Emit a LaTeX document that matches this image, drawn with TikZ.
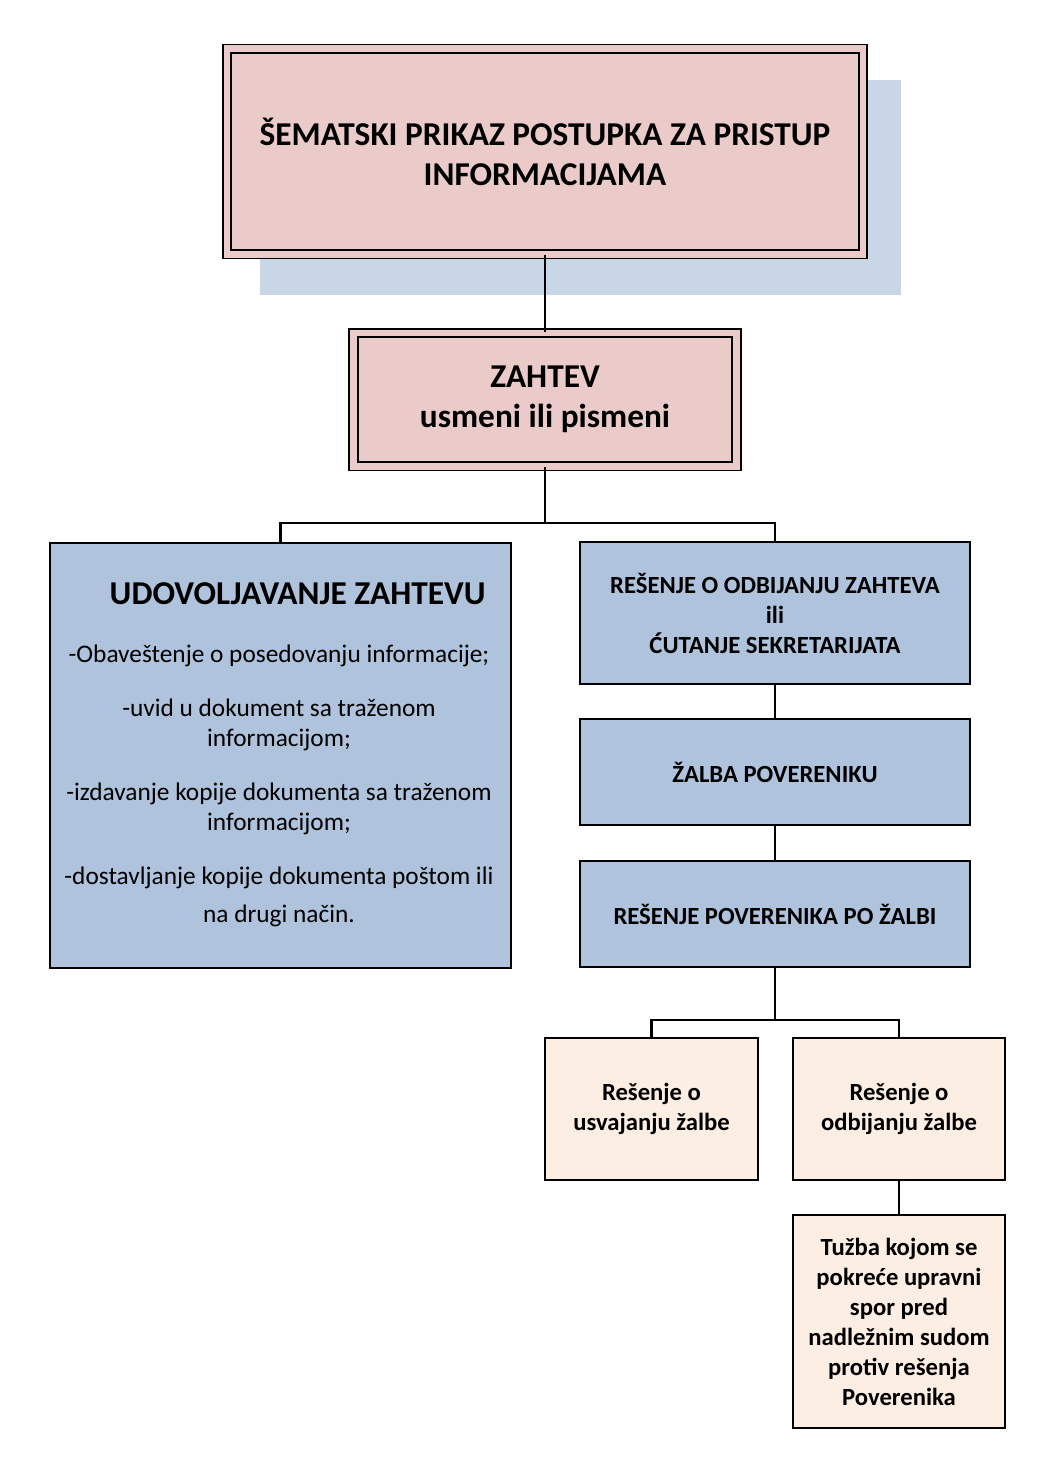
\documentclass[tikz,border=0pt]{standalone}
\usepackage{fontspec}
\setmainfont{Carlito}
\usetikzlibrary{positioning}
\definecolor{pinkfill}{HTML}{EACBCA}
\definecolor{bluefill}{HTML}{B0C3DD}
\definecolor{shadowblue}{HTML}{C9D6E6}
\definecolor{peachfill}{HTML}{FCEEE3}
\tikzset{
  box/.style={draw=black, line width=1.4pt, inner sep=0pt, align=center},
  pinkbox/.style={box, fill=pinkfill, double=pinkfill, double distance=5pt,
    font=\fontsize{25}{30}\selectfont\bfseries},
  bluebox/.style={box, fill=bluefill, font=\fontsize{18.5}{22.5}\selectfont\bfseries},
  peachbox/.style={box, fill=peachfill, font=\fontsize{18.5}{22.5}\selectfont\bfseries},
  link/.style={line width=1.6pt}
}
\begin{document}
\begin{tikzpicture}[x=0.75pt, y=-0.75pt]
\useasboundingbox (0,0) rectangle (1050,1466);
% shadow behind title
\fill[shadowblue] (260,80) rectangle (901,295);

\node[pinkbox, minimum width=477pt, minimum height=154pt] (title) at (545,151.5)
  {ŠEMATSKI PRIKAZ POSTUPKA ZA PRISTUP\\ INFORMACIJAMA};
\node[pinkbox, minimum width=287pt, minimum height=100pt] (zahtev) at (545,399.5)
  {ZAHTEV\\ usmeni ili pismeni};

\node[bluebox, minimum width=345.75pt, minimum height=318.75pt, anchor=north west] (udov) at (49,542) {};
\node[align=center, anchor=north, font=\fontsize{19}{22.5}\selectfont] (udovtext) at (279,578)
  {{\fontsize{25}{30}\selectfont\bfseries\hspace*{28pt}UDOVOLJAVANJE ZAHTEVU}\\[21pt]
   -Obaveštenje o posedovanju informacije;\\[18pt]
   -uvid u dokument sa traženom\\ informacijom;\\[18pt]
   -izdavanje kopije dokumenta sa traženom\\ informacijom;\\[18pt]
   -dostavljanje kopije dokumenta poštom ili\\[6pt] na drugi način.};

\node[bluebox, minimum width=292.5pt, minimum height=106.5pt] (odbij) at (775,613)
  {REŠENJE O ODBIJANJU ZAHTEVA\\ ili\\ ĆUTANJE SEKRETARIJATA};
\node[bluebox, minimum width=292.5pt, minimum height=79.5pt] (zalba) at (775,772)
  {ŽALBA POVERENIKU};
\node[bluebox, minimum width=292.5pt, minimum height=79.5pt] (resenje) at (775,914)
  {REŠENJE POVERENIKA PO ŽALBI};

\node[peachbox, minimum width=159.75pt, minimum height=106.5pt] (usvaj) at (651.5,1109)
  {Rešenje o\\ usvajanju žalbe};
\node[peachbox, minimum width=159pt, minimum height=106.5pt] (odbzal) at (899,1109)
  {Rešenje o\\ odbijanju žalbe};
\node[peachbox, minimum width=159pt, minimum height=159.75pt] (tuzba) at (899,1321.5)
  {Tužba kojom se\\ pokreće upravni\\ spor pred\\ nadležnim sudom\\ protiv rešenja\\ Poverenika};

% connectors
\coordinate (split1) at (545,523);
\coordinate (split2) at (775,1020);
\draw[link] (title) -- (zahtev);
\draw[link] (zahtev) -- (split1);
\draw[link] (udov.north) |- (split1) -| (odbij.north);
\draw[link] (odbij) -- (zalba);
\draw[link] (zalba) -- (resenje);
\draw[link] (resenje) -- (split2);
\draw[link] (usvaj.north) |- (split2) -| (odbzal.north);
\draw[link] (odbzal) -- (tuzba);
\end{tikzpicture}
\end{document}
